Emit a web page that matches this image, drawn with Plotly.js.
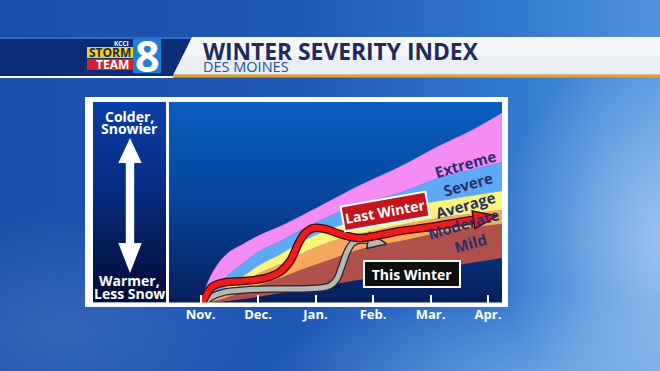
<!DOCTYPE html>
<html><head><meta charset="utf-8">
<script src="https://cdn.plot.ly/plotly-3.0.1.min.js"></script>
<style>
html,body{margin:0;padding:0;width:660px;height:371px;overflow:hidden;}
body{background:
 radial-gradient(ellipse 170px 210px at 670px 240px, rgba(205,228,250,0.62), rgba(205,228,250,0) 100%),
 radial-gradient(ellipse 280px 90px at 540px 380px, rgba(165,205,242,0.45), rgba(165,205,242,0) 100%),
 radial-gradient(ellipse 200px 120px at 60px 330px, rgba(120,170,230,0.25), rgba(120,170,230,0) 100%),
 linear-gradient(90deg, #1b4ea9 0%, #1f57b5 45%, #3176cd 75%, #4f93dd 100%);}
#chart{width:660px;height:371px;}
</style></head>
<body><div id="chart"></div>
<script>
// ---- data ----
const monthLabels = ['Nov.', 'Dec.', 'Jan.', 'Feb.', 'Mar.', 'Apr.'];
const monthTicks = [0, 1, 2, 3, 4, 5];
const bandMonths = [0, 0.08, 0.17, 0.33, 0.5, 0.75, 1, 1.4, 1.75, 2.25, 2.75, 3.5, 4.15, 4.7, 5.25];
const mildLow     = [0, 0, 0, 0.5, 1.0, 2.0, 3.0, 5.0, 6.5, 9.0, 11.4, 14.4, 17.4, 19.9, 22.4];
const mildTop     = [0, 0, 0.5, 1.5, 3.0, 5.5, 8.5, 12.4, 16.4, 21.4, 26.4, 30.8, 34.8, 37.3, 39.3];
const moderateTop = [0, 0.5, 1.5, 3.5, 6.0, 10.0, 14.4, 19.4, 24.4, 30.3, 34.3, 38.8, 42.3, 44.3, 46.3];
const averageTop  = [0, 1.0, 2.5, 5.5, 9.0, 13.4, 18.4, 24.4, 30.3, 36.8, 41.3, 47.3, 50.7, 53.2, 55.7];
const severeTop   = [0, 2.0, 4.5, 9.5, 14.4, 19.9, 25.4, 30.8, 36.3, 43.3, 48.8, 55.2, 62.2, 66.2, 70.1];
const extremeTop  = [0, 6.5, 12.9, 20.4, 25.4, 29.4, 33.3, 38.3, 43.3, 50.7, 58.2, 68.2, 78.1, 85.6, 94.5];
const bandNames = ['Mild', 'Moderate', 'Average', 'Severe', 'Extreme'];
const bandColors = ['#b0504b', '#f6a95c', '#faf37c', '#5ca9f6', '#f48cf4'];

const lastMonths = [0.03, 0.1, 0.2, 0.37, 0.77, 1.12, 1.38, 1.56, 1.7, 1.82, 1.96, 2.17, 2.43, 2.77, 3.12, 3.47, 3.99, 4.51, 4.83, 5.16];
const lastWinter = [0, 4.0, 8.0, 10.0, 11.0, 12.4, 15.4, 20.9, 29.4, 34.8, 37.3, 36.8, 34.3, 32.3, 33.8, 35.8, 37.8, 40.3, 41.8, 43.3];
const thisMonths = [0.08, 0.22, 0.43, 0.77, 1.21, 1.73, 2.08, 2.25, 2.37, 2.46, 2.55, 2.65, 2.79, 2.96, 3.24];
const thisWinter = [0.5, 3.5, 5.5, 6.5, 7.0, 7.0, 7.5, 8.5, 11.9, 18.4, 25.4, 29.9, 31.3, 30.8, 29.4];

// ---- geometry helpers (pixel -> paper) ----
const X0 = 169, X1 = 502, Y0 = 102, Y1 = 303;
const XR = [(X0 - 200.5) / 57.5, (X1 - 200.5) / 57.5], YR = [0, 100];
const PXM = (X1 - X0) / (XR[1] - XR[0]), PXV = (Y1 - Y0) / (YR[1] - YR[0]);
const xp = px => (px - X0) / (X1 - X0);
const yp = py => (Y1 - py) / (Y1 - Y0);
const FONT = 'Open Sans';
function rect(x0, y0, x1, y1, fill, layer) {
  return {type: 'rect', xref: 'paper', yref: 'paper', x0: xp(x0), x1: xp(x1), y0: yp(y1), y1: yp(y0),
          fillcolor: fill, line: {width: 0}, layer: layer || 'above'};
}
function poly(pts, fill, layer) {
  return {type: 'path', xref: 'paper', yref: 'paper',
          path: 'M' + pts.map(p => xp(p[0]) + ',' + yp(p[1])).join('L') + 'Z',
          fillcolor: fill, line: {width: 0}, layer: layer || 'above'};
}
function txt(text, px, py, size, color, opts) {
  return Object.assign({xref: 'paper', yref: 'paper', x: xp(px), y: yp(py), text: text, showarrow: false,
    xanchor: 'center', yanchor: 'middle', font: {family: FONT, size: size, color: color, weight: 700}}, opts || {});
}
function grad(stops) {
  const s = '<svg xmlns="http://www.w3.org/2000/svg" width="10" height="100" preserveAspectRatio="none">' +
    '<defs><linearGradient id="g" x1="0" y1="0" x2="0" y2="1">' +
    stops.map(st => '<stop offset="' + st[0] + '" stop-color="' + st[1] + '"/>').join('') +
    '</linearGradient></defs><rect width="10" height="100" fill="url(#g)"/></svg>';
  return 'data:image/svg+xml;base64,' + btoa(s);
}

// ---- traces ----
const traces = [];
const bounds = [mildLow, mildTop, moderateTop, averageTop, severeTop, extremeTop];
traces.push({x: bandMonths, y: mildLow, mode: 'lines', line: {width: 0, shape: 'spline'}, hoverinfo: 'skip'});
for (let i = 1; i < bounds.length; i++) {
  traces.push({x: bandMonths, y: bounds[i], name: bandNames[i - 1], mode: 'lines', fill: 'tonexty',
    fillcolor: bandColors[i - 1], line: {width: 0.5, color: bandColors[i - 1], shape: 'spline'}, hoverinfo: 'skip'});
}
// line body = all points but the last; the arrow head tip is the last point, aligned with the last segment
function arrowLine(xs, ys, color, width) {
  return {x: xs.slice(0, -1), y: ys.slice(0, -1), mode: 'lines',
    line: {color: color, width: width, shape: 'spline', smoothing: 1}, hoverinfo: 'skip'};
}
function arrowHead(xs, ys, color, edge, len, half) {
  const n = xs.length;
  const dx = (xs[n - 1] - xs[n - 2]) * PXM, dy = (ys[n - 1] - ys[n - 2]) * PXV;
  const d = Math.hypot(dx, dy), ux = dx / d, uy = dy / d;
  const bx = -ux * len, by = -uy * len;           // base centre, pixel offset from tip
  const nx = -uy * half, ny = ux * half;          // half-width normal
  const offs = [[0, 0], [bx + nx, by + ny], [bx - nx, by - ny], [0, 0]];
  return {x: offs.map(o => xs[n - 1] + o[0] / PXM), y: offs.map(o => ys[n - 1] + o[1] / PXV),
    mode: 'lines', fill: 'toself', fillcolor: color, line: {color: edge, width: 1.4}, hoverinfo: 'skip'};
}
traces.push(arrowLine(thisMonths, thisWinter, '#262626', 7.5));
traces.push(arrowLine(thisMonths, thisWinter, '#b8b8b8', 5));
traces.push(arrowHead(thisMonths, thisWinter, '#b8b8b8', '#262626', 19, 8));
traces.push(arrowLine(lastMonths, lastWinter, '#3c0606', 8.5));
traces.push(arrowLine(lastMonths, lastWinter, '#f11a1a', 6));
traces.push(arrowHead(lastMonths, lastWinter, '#f11a1a', '#3c0606', 24, 9));

// ---- shapes ----
const shapes = [
  // header left bar
  rect(0, 38, 200, 76.5, '#0c2c78', 'below'),
  rect(0, 37, 200, 39, '#3567c4', 'below'),
  rect(0, 76, 174, 78, '#ffffff', 'below'),
  // white title banner
  poly([[192, 37], [660, 37], [660, 74.5], [173.5, 74.5]], '#f5f7fb', 'below'),
  poly([[183, 56], [660, 56], [660, 74.5], [173.5, 74.5]], '#e9edf4', 'below'),
  poly([[173.5, 74.5], [660, 74.5], [660, 77.5], [172, 77.5]], '#e4a328', 'below'),
  // logo
  rect(87, 47, 133, 58, '#f3d11e', 'below'),
  rect(87, 59, 133, 70, '#d7202b', 'below'),
  rect(133, 39, 161, 73, '#1f7fd3', 'below'),
  // frame
  rect(85, 97, 508, 102, '#ffffff'),
  rect(85, 302.5, 508, 307, '#ffffff'),
  rect(85, 97, 93, 307, '#ffffff'),
  rect(502, 97, 508, 307, '#ffffff'),
  rect(166, 97, 169, 307, '#ffffff'),
  // double arrow
  poly([[130, 138], [141.7, 163], [134.2, 163], [134.2, 243], [141.7, 243], [130, 273], [118.3, 243], [125.8, 243],
        [125.8, 163], [118.3, 163]], '#ffffff')
];

// ---- annotations ----
const LBL = '#27306b';
const annotations = [
  txt('KCCI', 121, 43.5, 6.5, '#ffffff'),
  txt('STORM', 110, 52.8, 12, '#1b2660'),
  txt('TEAM', 131, 64.5, 12, '#ffffff', {xanchor: 'right'}),
  txt('8', 147.5, 55, 43, '#ffffff'),
  txt('WINTER SEVERITY INDEX', 201, 51.5, 22.8, '#1e2b5c', {xanchor: 'left'}),
  txt('DES MOINES', 201, 66.5, 14.5, '#2c4f9f', {xanchor: 'left', font: {family: FONT, size: 14.5, color: '#2c4f9f', weight: 400}}),
  txt('Colder,', 129.5, 116, 14, '#ffffff'),
  txt('Snowier', 129.5, 128.5, 14, '#ffffff'),
  txt('Warmer,', 129.5, 280, 14, '#ffffff'),
  txt('Less Snow', 129.5, 293, 14, '#ffffff'),
  txt('Extreme', 465, 164, 15, LBL, {textangle: -16}),
  txt('Severe', 468, 184, 15, LBL, {textangle: -16}),
  txt('Average', 465, 205, 15, LBL, {textangle: -16}),
  txt('Moderate', 463, 224, 15, LBL, {textangle: -16}),
  txt('Mild', 470, 243, 15, LBL, {textangle: -16}),
  txt('Last Winter', 385, 211, 14, '#ffffff', {textangle: -10, bgcolor: '#c5141c', bordercolor: '#ffffff',
      borderwidth: 2, borderpad: 2, width: 80, height: 19}),
  txt('This Winter', 412, 274, 14, '#ffffff', {bgcolor: '#0f0f0f', bordercolor: '#ffffff',
      borderwidth: 2, borderpad: 2, width: 90, height: 20})
];

const images = [
  {source: grad([[0, '#0a5ec1'], [0.45, '#0647a0'], [1, '#061f5c']]), xref: 'paper', yref: 'paper',
   x: 0, y: 1, sizex: 1, sizey: 1, xanchor: 'left', yanchor: 'top', sizing: 'stretch', layer: 'below'},
  {source: grad([[0, '#0b3ea8'], [0.5, '#07287a'], [1, '#030c32']]), xref: 'paper', yref: 'paper',
   x: xp(93), y: yp(102), sizex: xp(166) - xp(93), sizey: yp(102) - yp(302), xanchor: 'left', yanchor: 'top',
   sizing: 'stretch', layer: 'below'}
];

const layout = {
  width: 660, height: 371,
  margin: {l: X0, r: 660 - X1, t: Y0, b: 371 - Y1, pad: 0},
  paper_bgcolor: 'rgba(0,0,0,0)', plot_bgcolor: 'rgba(0,0,0,0)',
  showlegend: false,
  xaxis: {range: XR, tickvals: monthTicks, ticktext: monthLabels,
    ticks: 'inside', ticklen: 8, tickwidth: 2, tickcolor: '#ffffff', showgrid: false, zeroline: false,
    showline: false, fixedrange: true, ticklabelstandoff: 2,
    tickfont: {family: FONT, size: 13, color: '#ffffff', weight: 700}},
  yaxis: {range: YR, visible: false, fixedrange: true},
  shapes: shapes, annotations: annotations, images: images
};
Plotly.newPlot('chart', traces, layout, {staticPlot: true, displayModeBar: false});
</script>
</body></html>
